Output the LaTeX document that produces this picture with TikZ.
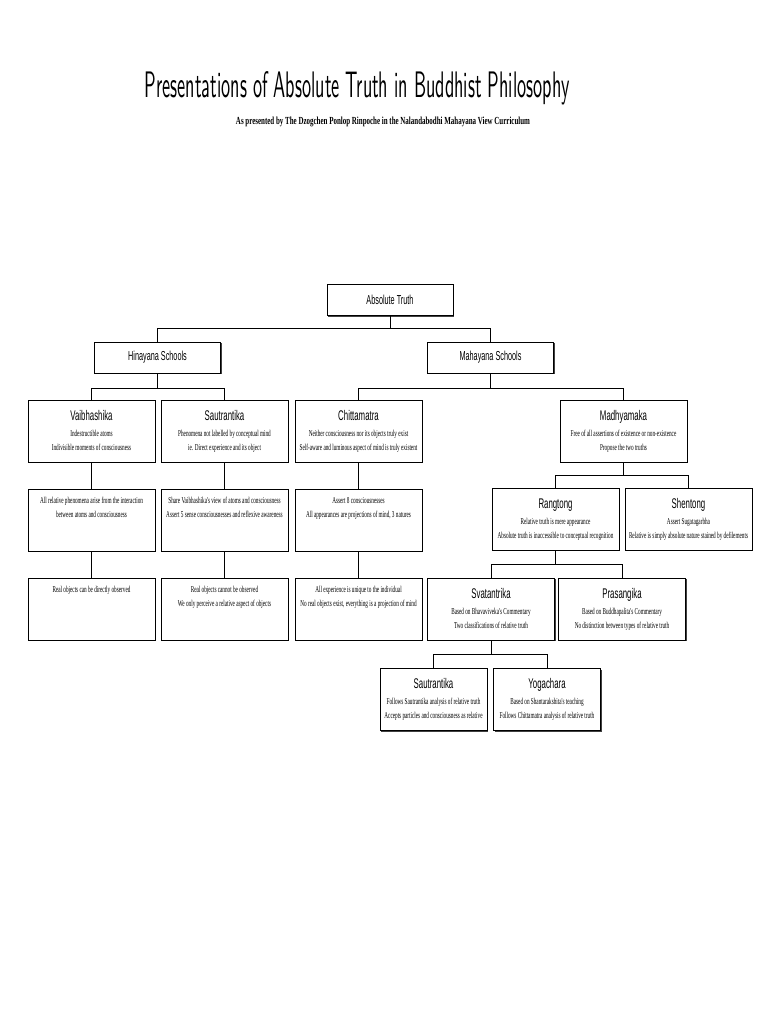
\documentclass[tikz,border=0pt]{standalone}
\usepackage{fontspec}
\usepackage{graphicx}
\usetikzlibrary{shadows}

\newfontfamily\headfont[FakeStretch=0.56]{Liberation Sans}
\newfontfamily\notefont[FakeStretch=0.58]{Liberation Serif}
\newfontfamily\subfont[FakeStretch=0.62]{Liberation Serif}

% box with a heading and two lines of notes
\newcommand{\headcell}[3][127pt]{%
  \parbox[t][62pt][t]{#1}{\centering\vspace{0pt}%
    \rule{0pt}{20pt}{\headfont\fontsize{14}{14}\selectfont #2}\par
    \vspace{2pt}%
    {\notefont\fontsize{9}{14}\selectfont #3\par}}}
% box with notes only
\newcommand{\notecell}[1]{%
  \parbox[t][62pt][t]{127pt}{\centering\vspace{0pt}%
    \notefont\fontsize{9}{14}\selectfont\rule{0pt}{14pt}#1\par}}

\begin{document}
\begin{tikzpicture}[x=1pt, y=-1pt,
    school/.style={draw, line width=0.8pt, fill=white, inner sep=0pt,
      drop shadow={shadow xshift=1pt, shadow yshift=-1pt, opacity=1, fill=black!75}},
    topbox/.style={school, minimum width=126pt, minimum height=31pt,
      font=\headfont\fontsize{13}{13}\selectfont},
    link/.style={line width=0.8pt},
  ]

  \fill[white] (0,0) rectangle (768,1024);
  \useasboundingbox (0,0) rectangle (768,1024);

  \node[anchor=base] (title) at (357.5,98)
    {\resizebox{425pt}{26pt}{\sffamily Presentations of Absolute Truth in Buddhist Philosophy}};
  \node[anchor=base] (subtitle) at (383,125)
    {\resizebox{294pt}{7.5pt}{\subfont\bfseries As presented by The Dzogchen Ponlop Rinpoche in the Nalandabodhi Mahayana View Curriculum}};

  % top
  \node[topbox] (abs) at (390,300) {Absolute Truth};
  \node[topbox] (hina) at (157.5,357.5) {Hinayana Schools};
  \node[topbox] (maha) at (490.5,357.5) {Mahayana Schools};

  % first row
  \node[school] (vaib) at (91.5,431)
    {\headcell{Vaibhashika}{Indestructible atoms\\Indivisible moments of consciousness}};
  \node[school] (sautr) at (224.5,431)
    {\headcell{Sautrantika}{Phenomena not labelled by conceptual mind\\ie. Direct experience and its object}};
  \node[school] (chitt) at (358.5,431)
    {\headcell{Chittamatra}{Neither consciousness nor its objects truly exist\\Self-aware and luminous aspect of mind is truly existent}};
  \node[school] (madh) at (623.5,431)
    {\headcell{Madhyamaka}{Free of all assertions of existence or non-existence\\Propose the two truths}};

  % second row
  \node[school] (vaib2) at (91.5,520)
    {\notecell{All relative phenomena arise from the interaction\\between atoms and consciousness}};
  \node[school] (sautr2) at (224.5,520)
    {\notecell{Share Vaibhashika's view of atoms and consciousness\\Assert 5 sense consciousnesses and reflexive awareness}};
  \node[school] (chitt2) at (358.5,520)
    {\notecell{Assert 8 consciousnesses\\All appearances are projections of mind, 3 natures}};
  \node[school] (rang) at (555.5,519)
    {\headcell{Rangtong}{Relative truth is mere appearance\\Absolute truth is inaccessible to conceptual recognition}};
  \node[school] (shen) at (688.5,519)
    {\headcell{Shentong}{Assert Sugatagarbha\\Relative is simply absolute nature stained by defilements}};

  % third row
  \node[school] (vaib3) at (91.5,609)
    {\notecell{Real objects can be directly observed}};
  \node[school] (sautr3) at (224.5,609)
    {\notecell{Real objects cannot be observed\\We only perceive a relative aspect of objects}};
  \node[school] (chitt3) at (358.5,609)
    {\notecell{All experience is unique to the individual\\No real objects exist, everything is a projection of mind}};
  \node[school] (svat) at (491,609)
    {\headcell{Svatantrika}{Based on Bhavaviveka's Commentary\\Two classifications of relative truth}};
  \node[school] (pras) at (622,609)
    {\headcell{Prasangika}{Based on Buddhapalita's Commentary\\No distinction between types of relative truth}};

  % fourth row
  \node[school] (sautrb) at (433.5,699.5)
    {\headcell[107pt]{Sautrantika}{Follows Sautrantika analysis of relative truth\\Accepts particles and consciousness as relative}};
  \node[school] (yoga) at (547,699.5)
    {\headcell[107pt]{Yogachara}{Based on Shantarakshita's teaching\\Follows Chittamatra analysis of relative truth}};

  % connectors
  \draw[link] (abs.south) -- ++(0,12.5) -| (hina.north);
  \draw[link] (abs.south) -- ++(0,12.5) -| (maha.north);
  \foreach \kid in {vaib,sautr}
    \draw[link] (hina.south) -- ++(0,14.5) -| (\kid.north);
  \foreach \kid in {chitt,madh}
    \draw[link] (maha.south) -- ++(0,14.5) -| (\kid.north);
  \foreach \kid in {rang,shen}
    \draw[link] (madh.south) -- ++(0,13) -| (\kid.north);
  \foreach \kid in {svat,pras}
    \draw[link] (rang.south) -- ++(0,14) -| (\kid.north);
  \foreach \kid in {sautrb,yoga}
    \draw[link] (svat.south) -- ++(0,14) -| (\kid.north);
  \foreach \col in {vaib,sautr,chitt} {
    \draw[link] (\col) -- (\col2);
    \draw[link] (\col2) -- (\col3);
  }

\end{tikzpicture}
\end{document}
